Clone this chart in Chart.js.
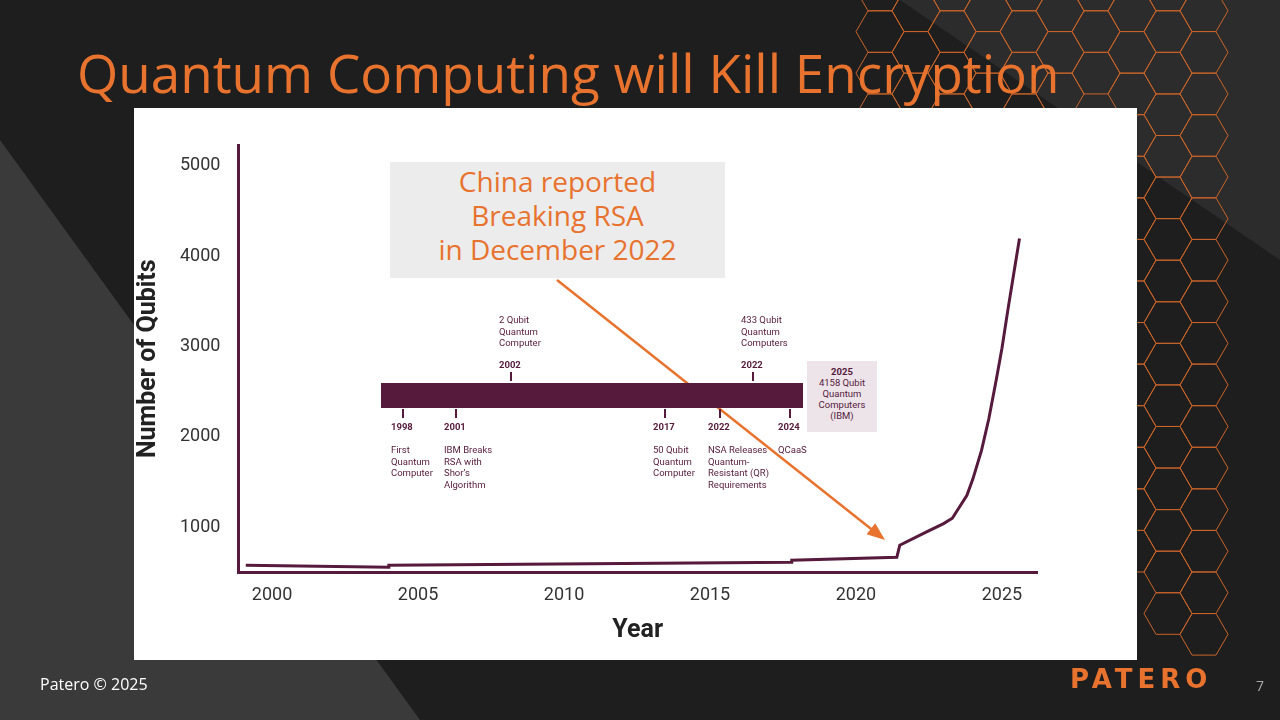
<!DOCTYPE html>
<html><head><meta charset="utf-8">
<script src="https://cdn.jsdelivr.net/npm/chart.js@4"></script>
<style>
body{margin:0;width:1280px;height:720px;overflow:hidden;background:#1e1e1e;font-family:"Open Sans",sans-serif;position:relative}
#bg{position:absolute;left:0;top:0}
#title{position:absolute;left:77px;top:36px;color:#e8732f;font-size:53px;white-space:nowrap}
#panel{position:absolute;left:134px;top:108px;width:1003px;height:552px;background:#fff}
#chart{position:absolute;left:0;top:0}
.t{position:absolute;color:#561a3c;font-family:Roboto,sans-serif;font-size:9.5px;line-height:11.5px}
.b{font-weight:bold}
#callout{position:absolute;left:256px;top:54px;width:335px;height:116px;background:#ececec;color:#e8732f;font-size:28px;line-height:34px;text-align:center;padding-top:2px;box-sizing:border-box}
#foot{position:absolute;left:40px;top:673px;color:#fff;font-size:16px}
#logo{position:absolute;left:1070px;top:664px;color:#e8732f;font-size:26px;font-weight:bold;letter-spacing:5px;font-family:"DejaVu Sans",sans-serif}
#pg{position:absolute;left:1256px;top:676px;color:#aaa;font-size:14px}
</style></head><body>
<canvas id="bg" width="1280" height="720"></canvas>
<div id="title">Quantum Computing will Kill Encryption</div>
<div id="panel">
<canvas id="chart" width="1003" height="552"></canvas>
<div id="callout">China reported<br>Breaking RSA<br>in December 2022</div>
</div>
<div id="foot">Patero © 2025</div>
<div id="logo">PATERO</div>
<div id="pg">7</div>
<script>
// qubit growth curve
const years = [1999.1, 2004.0, 2004.0, 2017.8, 2017.8, 2021.4, 2021.5, 2022.4, 2023.0, 2023.3, 2023.8, 2024.0, 2024.3, 2024.55, 2024.8, 2025.0, 2025.2, 2025.4, 2025.6];
const qubits = [580, 558, 580, 613, 635, 668, 801, 945, 1040, 1100, 1354, 1530, 1850, 2200, 2624, 2980, 3400, 3800, 4194];
const yTicks = [1000, 2000, 3000, 4000, 5000];
const xTicks = [2000, 2005, 2010, 2015, 2020, 2025];
const above = [['2002', '2 Qubit<br>Quantum<br>Computer', 376], ['2022', '433 Qubit<br>Quantum<br>Computers', 618]];
const below = [['1998', 'First<br>Quantum<br>Computer', 267], ['2001', 'IBM Breaks<br>RSA with<br>Shor’s<br>Algorithm', 320], ['2017', '50 Qubit<br>Quantum<br>Computer', 529], ['2022', 'NSA Releases<br>Quantum-<br>Resistant (QR)<br>Requirements', 584], ['2024', 'QCaaS', 654]];
const plum = '#561a3c';

// slide background
const g = document.getElementById('bg').getContext('2d');
g.fillStyle = '#1e1e1e'; g.fillRect(0, 0, 1280, 720);
g.fillStyle = '#3a3a3a';
g.beginPath(); g.moveTo(0, 140); g.lineTo(0, 720); g.lineTo(420, 720); g.closePath(); g.fill();
g.fillStyle = '#2c2c2c';
g.beginPath(); g.moveTo(900, 0); g.lineTo(1280, 0); g.lineTo(1280, 260); g.closePath(); g.fill();
g.strokeStyle = '#c8642a'; g.lineWidth = 1;
const r = 24;
for (let row = 0; row < 16; row++) {
  for (let col = 0; col < 10; col++) {
    const cx = 880 + col * r * 1.5, cy = row * r * Math.sqrt(3) + (col % 2) * r * Math.sqrt(3) / 2 - 10;
    if (cx < 1120 && cy > 300 - (cx - 880)) continue;
    if (cx < 1140 && cy > 560) continue;
    g.beginPath();
    for (let k = 0; k < 6; k++) { const a = Math.PI / 3 * k; g.lineTo(cx + r * Math.cos(a), cy + r * Math.sin(a)); }
    g.closePath(); g.stroke();
  }
}

// timeline overlay
const panel = document.getElementById('panel');
function add(html, cls, x, y, extra) {
  const d = document.createElement('div'); d.className = cls; d.innerHTML = html;
  d.style.left = x + 'px'; d.style.top = y + 'px'; if (extra) d.style.cssText += extra; panel.appendChild(d); return d;
}
add('', 't', 247, 275, 'width:422px;height:25px;background:' + plum);
above.forEach(a => {
  add(a[1], 't', a[2] - 11, 206);
  add(a[0], 't b', a[2] - 11, 251);
  add('', 't', a[2], 264, 'width:2px;height:9px;background:' + plum);
});
below.forEach(a => {
  add('', 't', a[2] + 1, 301, 'width:2px;height:9px;background:' + plum);
  add(a[0], 't b', a[2] - 10, 313);
  add(a[1], 't', a[2] - 10, 336);
});
add('<b>2025</b><br>4158 Qubit<br>Quantum<br>Computers<br>(IBM)', 't', 673, 253, 'width:70px;height:66px;background:#ede4ea;text-align:center;padding-top:5px;line-height:11px');

const arrow = {
  id: 'arrow',
  afterDraw(c) {
    const x = c.ctx, x1 = 423, y1 = 172, x2 = 751, y2 = 432;
    x.save(); x.strokeStyle = x.fillStyle = '#e8732f'; x.lineWidth = 2.5;
    const a = Math.atan2(y2 - y1, x2 - x1);
    x.beginPath(); x.moveTo(x1, y1); x.lineTo(x2 - 12 * Math.cos(a), y2 - 12 * Math.sin(a)); x.stroke();
    x.beginPath(); x.moveTo(x2, y2);
    x.lineTo(x2 - 18 * Math.cos(a) + 7 * Math.sin(a), y2 - 18 * Math.sin(a) - 7 * Math.cos(a));
    x.lineTo(x2 - 18 * Math.cos(a) - 7 * Math.sin(a), y2 - 18 * Math.sin(a) + 7 * Math.cos(a));
    x.closePath(); x.fill(); x.restore();
  }
};

new Chart(document.getElementById('chart'), {
  type: 'line',
  data: { datasets: [{ data: years.map((y, i) => ({ x: y, y: qubits[i] })), borderColor: plum, borderWidth: 3, pointRadius: 0, tension: 0 }] },
  options: {
    responsive: false, animation: false,
    layout: { padding: { left: 0, top: 37, right: 100, bottom: 10 } },
    plugins: { legend: { display: false }, tooltip: { enabled: false } },
    scales: {
      x: {
        type: 'linear', min: 1998.85, max: 2026.2,
        afterBuildTicks: s => { s.ticks = xTicks.map(v => ({ value: v })); },
        grid: { display: false }, border: { color: plum, width: 3 },
        ticks: { color: '#333', font: { family: 'Roboto', size: 18 }, padding: 4, callback: v => v },
        title: { display: true, text: 'Year', color: '#222', font: { family: 'Roboto', size: 25, weight: 'bold' }, padding: { top: 6 } }
      },
      y: {
        min: 500, max: 5230,
        afterBuildTicks: s => { s.ticks = yTicks.map(v => ({ value: v })); },
        grid: { display: false }, border: { color: plum, width: 3 },
        ticks: { color: '#333', font: { family: 'Roboto', size: 18 }, padding: 10, callback: v => v },
        title: { display: true, text: 'Number of Qubits', color: '#222', font: { family: 'Roboto', size: 25, weight: 'bold' }, padding: { top: 0, bottom: 6 } }
      }
    }
  },
  plugins: [arrow]
});
</script>
</body></html>
